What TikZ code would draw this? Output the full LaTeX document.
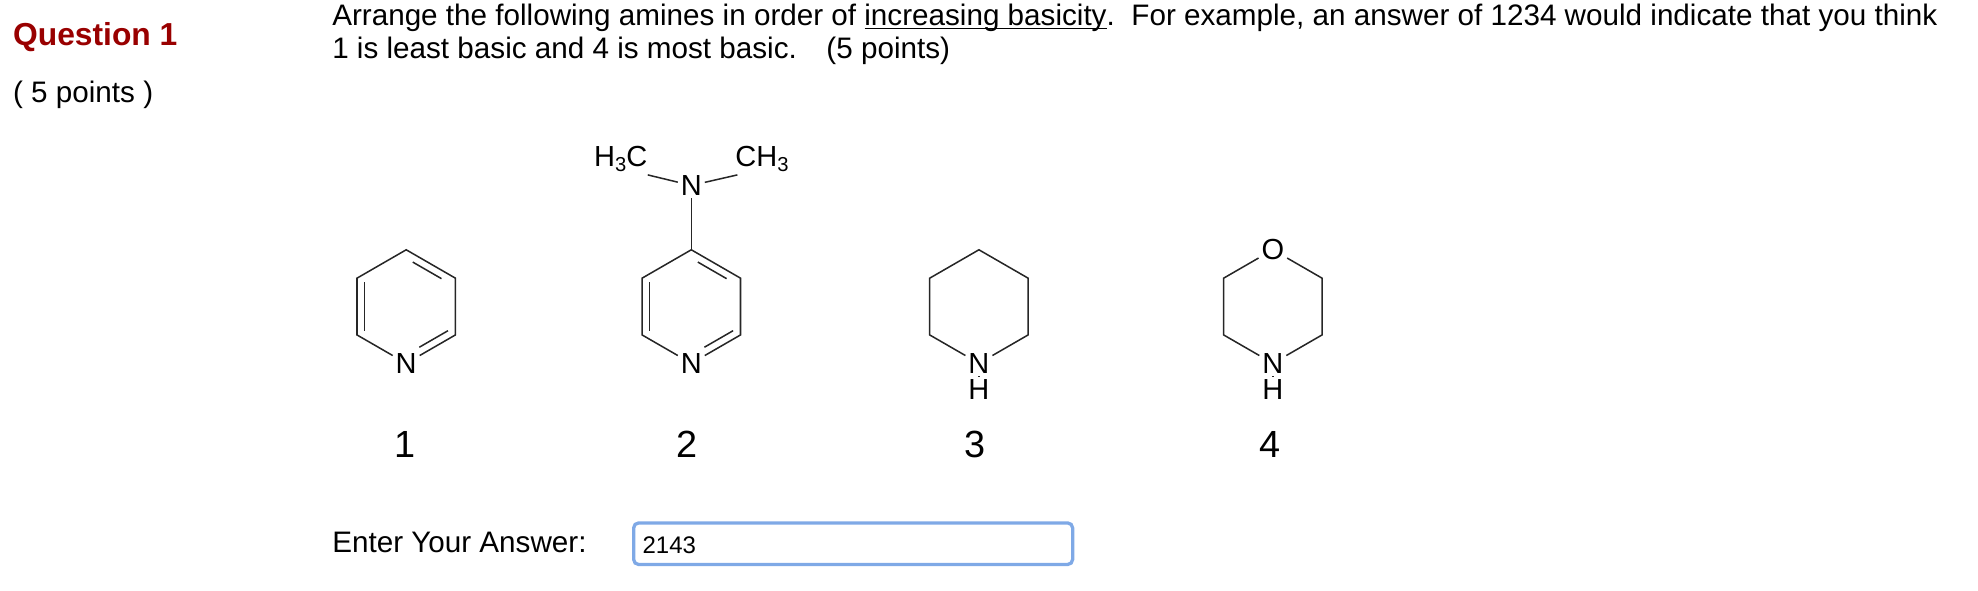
\documentclass[tikz,border=0pt]{standalone}
\usepackage{fontspec}
\setmainfont{Liberation Sans}
\usetikzlibrary{calc}
\definecolor{qred}{HTML}{990000}
\definecolor{boxblue}{HTML}{7FA9E6}
\newcommand{\sbs}[1]{\raisebox{-0.35ex}{\fontsize{8}{8}\selectfont #1}}
\newcommand{\myul}[1]{\underline{\smash{#1}}}
\begin{document}
\begin{tikzpicture}[x=0.5pt,y=-0.5pt,
  bond/.style={line width=0.6pt,draw=black!85},
  atom/.style={inner sep=1pt,font=\fontsize{11.5}{11.5}\selectfont},
  num/.style={font=\fontsize{15}{15}\selectfont},
  txt/.style={anchor=base west,inner sep=0pt,font=\fontsize{11.75}{13}\selectfont}]
\useasboundingbox (0,0) rectangle (1568,468);
% header
\node[txt,font=\fontsize{12.6}{14}\selectfont\bfseries,text=qred] (q) at (10,36) {Question 1};
\node[txt] (pts) at (10,81) {( 5 points )};
\node[txt] (l1) at (263,20) {Arrange the following amines in order of \myul{increasing basicity}.\ \ For example, an answer of 1234 would indicate that you think};
\node[txt] (l2) at (263,46) {1 is least basic and 4 is most basic.\quad (5 points)};
\newcommand{\ringpts}[3]{%
  \coordinate (#1t) at (#2,#3-45);
  \coordinate (#1ur) at (#2+39,#3-22.5);
  \coordinate (#1lr) at (#2+39,#3+22.5);
  \coordinate (#1b) at (#2,#3+45);
  \coordinate (#1ll) at (#2-39,#3+22.5);
  \coordinate (#1ul) at (#2-39,#3-22.5);
  \coordinate (#1c) at (#2,#3);}
% molecule 1
\ringpts{a}{322}{243}
\node[atom] (aN) at (ab) {N};
\draw[bond] (aN) -- (all) -- (aul) -- (at) -- (aur) -- (alr) -- (aN);
\draw[bond] ($(all)!0.15!(ac)$) -- ($(aul)!0.15!(ac)$);
\draw[bond,shorten <=3,shorten >=3] ($(at)!0.15!(ac)$) -- ($(aur)!0.15!(ac)$);
\draw[bond,shorten >=6] ($(alr)!0.15!(ac)$) -- ($(ab)!0.15!(ac)$);
% molecule 2
\ringpts{b}{548}{243}
\node[atom] (bN) at (bb) {N};
\draw[bond] (bN) -- (bll) -- (bul) -- (bt) -- (bur) -- (blr) -- (bN);
\draw[bond] ($(bll)!0.15!(bc)$) -- ($(bul)!0.15!(bc)$);
\draw[bond,shorten <=3,shorten >=3] ($(bt)!0.15!(bc)$) -- ($(bur)!0.15!(bc)$);
\draw[bond,shorten >=6] ($(blr)!0.15!(bc)$) -- ($(bb)!0.15!(bc)$);
\node[atom] (bNm) at (548,147) {N};
\node[atom] (bMe1) at (492,126) {H\sbs{3}C};
\node[atom] (bMe2) at (604,126) {CH\sbs{3}};
\draw[bond] (bt) -- (bNm);
\draw[bond] (bNm) -- ($(bMe1.south east)+(-2,0)$);
\draw[bond] (bNm) -- ($(bMe2.south west)+(4,0)$);
% molecule 3
\ringpts{c}{776}{243}
\node[atom] (cN) at (cb) {N};
\node[atom] (cH) at (776,309) {H};
\draw[bond] (cN) -- (cll) -- (cul) -- (ct) -- (cur) -- (clr) -- (cN);
\draw[bond] (cN) -- (cH);
% molecule 4
\ringpts{d}{1009}{243}
\node[atom] (dN) at (db) {N};
\node[atom] (dO) at (dt) {O};
\node[atom] (dH) at (1009,309) {H};
\draw[bond] (dN) -- (dll) -- (dul) -- (dO) -- (dur) -- (dlr) -- (dN);
\draw[bond] (dN) -- (dH);
% numbers
\node[num] (n1) at (321,352) {1};
\node[num] (n2) at (545,352) {2};
\node[num] (n3) at (773,352) {3};
\node[num] (n4) at (1007,352) {4};
% answer
\node[txt] (ent) at (263,438) {Enter Your Answer:};
\node[draw=boxblue,line width=1.3pt,rounded corners=2pt,minimum width=174pt,minimum height=16.5pt,anchor=west,inner sep=0pt] (box) at (501,431) {};
\node[anchor=west,inner sep=0pt,font=\fontsize{9.5}{10}\selectfont] (ans) at (509,432) {2143};
\end{tikzpicture}
\end{document}
